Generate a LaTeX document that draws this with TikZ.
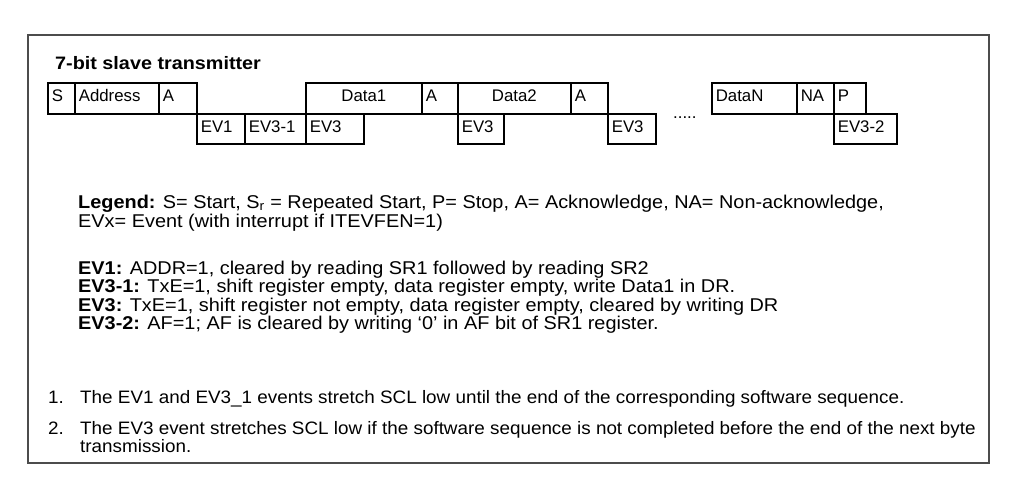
\documentclass[tikz,border=0pt]{standalone}
\usepackage{fontspec}
\setmainfont{Liberation Sans}
\newfontfamily\widefont[FakeStretch=1.075,Ligatures=TeX]{Liberation Sans}
\newfontfamily\titlefont[FakeStretch=1.1,Ligatures=TeX]{Liberation Sans}
\newfontfamily\notefont[FakeStretch=1.048,Ligatures=TeX]{Liberation Sans}
\usetikzlibrary{positioning}

\tikzset{
  fieldbox/.style={draw, line width=1.6pt, anchor=north west, minimum height=31pt,
    inner xsep=4pt, inner ysep=0pt, text width={#1-8pt}, align=left,
    font=\fontsize{16.8}{18}\selectfont, execute at begin node=\strut},
  evbox/.style={fieldbox=#1, minimum height=30pt},
  midbox/.style={fieldbox=#1, align=center},
  legendtext/.style={anchor=base west, inner sep=0pt,
    font=\widefont\fontsize{18.5}{18.5}\selectfont},
  notetext/.style={anchor=base west, inner sep=0pt,
    font=\notefont\fontsize{18}{18}\selectfont}
}

\begin{document}
\begin{tikzpicture}[x=1pt,y=-1pt]
  \fill[white] (0,0) rectangle (1024,493);
  \useasboundingbox (0,0) rectangle (1024,493);
  % frame
  \draw[line width=1.3pt, black!70] (28,35) rectangle (989,463);
  \node[anchor=base west, inner sep=0pt, font=\titlefont\bfseries\fontsize{18}{18}\selectfont] (title) at (55,69) {7-bit slave transmitter};

  % top row
  \node[fieldbox=27pt] (s) at (47,82) {S};
  \node[fieldbox=84pt] (addr) at (74,82) {Address};
  \node[fieldbox=38pt] (a1) at (158,82) {A};
  \node[midbox=116pt] (data1) at (305,82) {Data1};
  \node[fieldbox=36pt] (a2) at (421,82) {A};
  \node[midbox=113pt] (data2) at (457,82) {Data2};
  \node[fieldbox=37pt] (a3) at (570,82) {A};
  \node[fieldbox=85pt] (datan) at (711,82) {DataN};
  \node[fieldbox=37pt] (na) at (796,82) {NA};
  \node[fieldbox=32pt] (p) at (833,82) {P};
  % bottom row
  \node[evbox=48pt] (ev1) at (196,113) {EV1};
  \node[evbox=61pt] (ev31) at (244,113) {EV3-1};
  \node[evbox=58pt] (ev3a) at (305,113) {EV3};
  \node[evbox=46pt] (ev3b) at (457,113) {EV3};
  \node[evbox=48pt] (ev3c) at (607,113) {EV3};
  \node[evbox=63pt] (ev32) at (833,113) {EV3-2};
  \node[anchor=base west, inner sep=0pt, font=\fontsize{16.8}{18}\selectfont] (dots) at (673,118) {.....};

  % legend
  \node[legendtext] (legend) at (78,208) {\textbf{Legend:} S= Start, S\textsubscript{r} = Repeated Start, P= Stop, A= Acknowledge, NA= Non-acknowledge,};
  \node[legendtext] (evx) at (78,227.7) {EVx= Event (with interrupt if ITEVFEN=1)};
  \node[legendtext] (evone) at (78,274.3) {\textbf{EV1:} ADDR=1, cleared by reading SR1 followed by reading SR2};
  \node[legendtext] (evthreeone) at (78,292.7) {\textbf{EV3-1:} TxE=1, shift register empty, data register empty, write Data1 in DR.};
  \node[legendtext] (evthree) at (78,311) {\textbf{EV3:} TxE=1, shift register not empty, data register empty, cleared by writing DR};
  \node[legendtext] (evthreetwo) at (78,329.3) {\textbf{EV3-2:} AF=1; AF is cleared by writing ‘0’ in AF bit of SR1 register.};

  % notes
  \node[notetext] (num1) at (48,403.3) {1.};
  \node[notetext] (note1) at (80,403.3) {The EV1 and EV3\_1 events stretch SCL low until the end of the corresponding software sequence.};
  \node[notetext] (num2) at (48,434.3) {2.};
  \node[notetext] (note2) at (80,434.3) {The EV3 event stretches SCL low if the software sequence is not completed before the end of the next byte};
  \node[notetext] (note2b) at (80,452.7) {transmission.};
\end{tikzpicture}
\end{document}
